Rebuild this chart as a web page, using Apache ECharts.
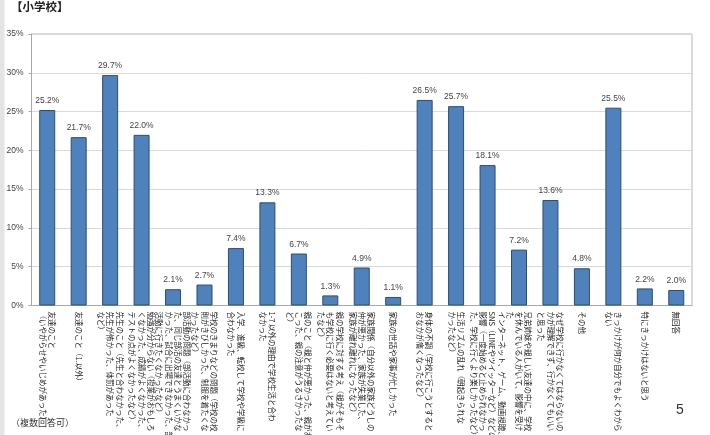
<!DOCTYPE html>
<html>
<head>
<meta charset="utf-8">
<title>小学校</title>
<script src="https://cdn.jsdelivr.net/npm/echarts@6/dist/echarts.min.js"></script>
<style>
  html, body { margin: 0; padding: 0; background: #fff; }
  body { background: linear-gradient(to right, #e4e4e4 0, #e4e4e4 4px, #fff 5px); }
  #main { width: 710px; height: 435px; }
</style>
</head>
<body>
<div id="main"></div>
<script>
  // 棒のラベル（改行は元の図の折り返し位置）
  var categories = [
    '友達のこと\n（いやがらせやいじめがあった）',
    '友達のこと（1.以外）',
    '先生のこと（先生と合わなかった、\n先生が怖かった、体罰があった\nなど）',
    '勉強が分からない（授業がおもしろ\nくなかった、成績がよくなかった、\nテストの点がよくなかったなど）',
    '部活動の問題（部活動に合わなかっ\nた、同じ部活の友達とうまくいかな\nかった、試合に出場できなかった、部\n活動に行きたくなかったなど）',
    '学校のきまりなどの問題（学校の校\n則がきびしかった、制服を着たくな\nかったなど）',
    '入学、進級、転校して学校や学級に\n合わなかった',
    '1-7 以外の理由で学校生活と合わ\nなかった',
    '親のこと（親と仲が悪かった、親がお\nこった、親の注意がうるさかったな\nど）',
    '親の学校に対する考え（親がそもそ\nも学校に行く必要はないと考えてい\nたなど）',
    '家族関係（自分以外の家族どうしの\n仲が悪かった、家族が失業した、\n家族が離れ離れになったなど）',
    '家族の世話や家事が忙しかった',
    '身体の不調（学校に行こうとすると\nおなかが痛くなったなど）',
    '生活リズムの乱れ（朝起きられな\nかったなど）',
    'インターネット、ゲーム、動画視聴、\nSNS（LINEやツイッターなど）などの\n影響（一度始めると止められなかっ\nた、学校に行くより楽しかったなど）',
    '兄弟姉妹や親しい友達の中に、学校\nを休んでいる人がいて、影響を受け\nた',
    'なぜ学校に行かなくてはならないの\nかが理解できず、行かなくてもいい\nと思った',
    'その他',
    'きっかけが何か自分でもよくわから\nない',
    '特にきっかけはないと思う',
    '無回答'
  ];
  var values = [25.2, 21.7, 29.7, 22.0, 2.1, 2.7, 7.4, 13.3, 6.7, 1.3, 4.9, 1.1, 26.5, 25.7, 18.1, 7.2, 13.6, 4.8, 25.5, 2.2, 2.0];

  var latin = '"Liberation Sans", "Noto Sans CJK JP", sans-serif';
  var cjk = '"Noto Sans CJK JP", sans-serif';

  var myChart = echarts.init(document.getElementById('main'));

  var option = {
    animation: false,
    grid: {
      left: 31.5, right: 18, top: 34, height: 271.5,
      outerBoundsMode: 'none',
      show: true, borderColor: '#b8b8b8', borderWidth: 1
    },
    xAxis: {
      type: 'category',
      data: categories,
      axisTick: { show: false },
      axisLine: { lineStyle: { color: '#a8a8a8' } },
      axisLabel: {
        interval: 0,
        rotate: -90,
        margin: 6,
        hideOverlap: false,
        fontFamily: cjk,
        fontSize: 7.5,
        lineHeight: 9.3,
        color: '#222'
      }
    },
    yAxis: {
      type: 'value',
      min: 0,
      max: 35,
      interval: 5,
      axisLine: { show: true, lineStyle: { color: '#a8a8a8' } },
      axisTick: { show: true, length: 3, lineStyle: { color: '#a8a8a8' } },
      splitLine: { lineStyle: { color: '#d9d9d9' } },
      axisLabel: {
        formatter: '{value}%',
        margin: 8,
        fontFamily: latin,
        fontSize: 8.5,
        color: '#444'
      }
    },
    series: [{
      type: 'bar',
      data: values,
      barWidth: 16,
      itemStyle: { color: '#4f81bd', borderColor: '#2d4d73', borderWidth: 1 },
      label: {
        show: true,
        position: 'top',
        distance: 5,
        fontFamily: latin,
        fontSize: 8.5,
        color: '#444',
        formatter: function (p) { return p.value.toFixed(1) + '%'; }
      }
    }],
    graphic: [
      { type: 'text', left: 11, top: 1, style: { text: '【小学校】', fontFamily: cjk, fontWeight: 'bold', fontSize: 11.5, fill: '#222' } },
      { type: 'text', left: 11, top: 418, style: { text: '（複数回答可）', fontFamily: cjk, fontSize: 9, fill: '#333' } },
      { type: 'text', left: 676, top: 403, style: { text: '5', fontFamily: latin, fontSize: 14, fill: '#333' } }
    ]
  };

  myChart.setOption(option);
</script>
</body>
</html>
